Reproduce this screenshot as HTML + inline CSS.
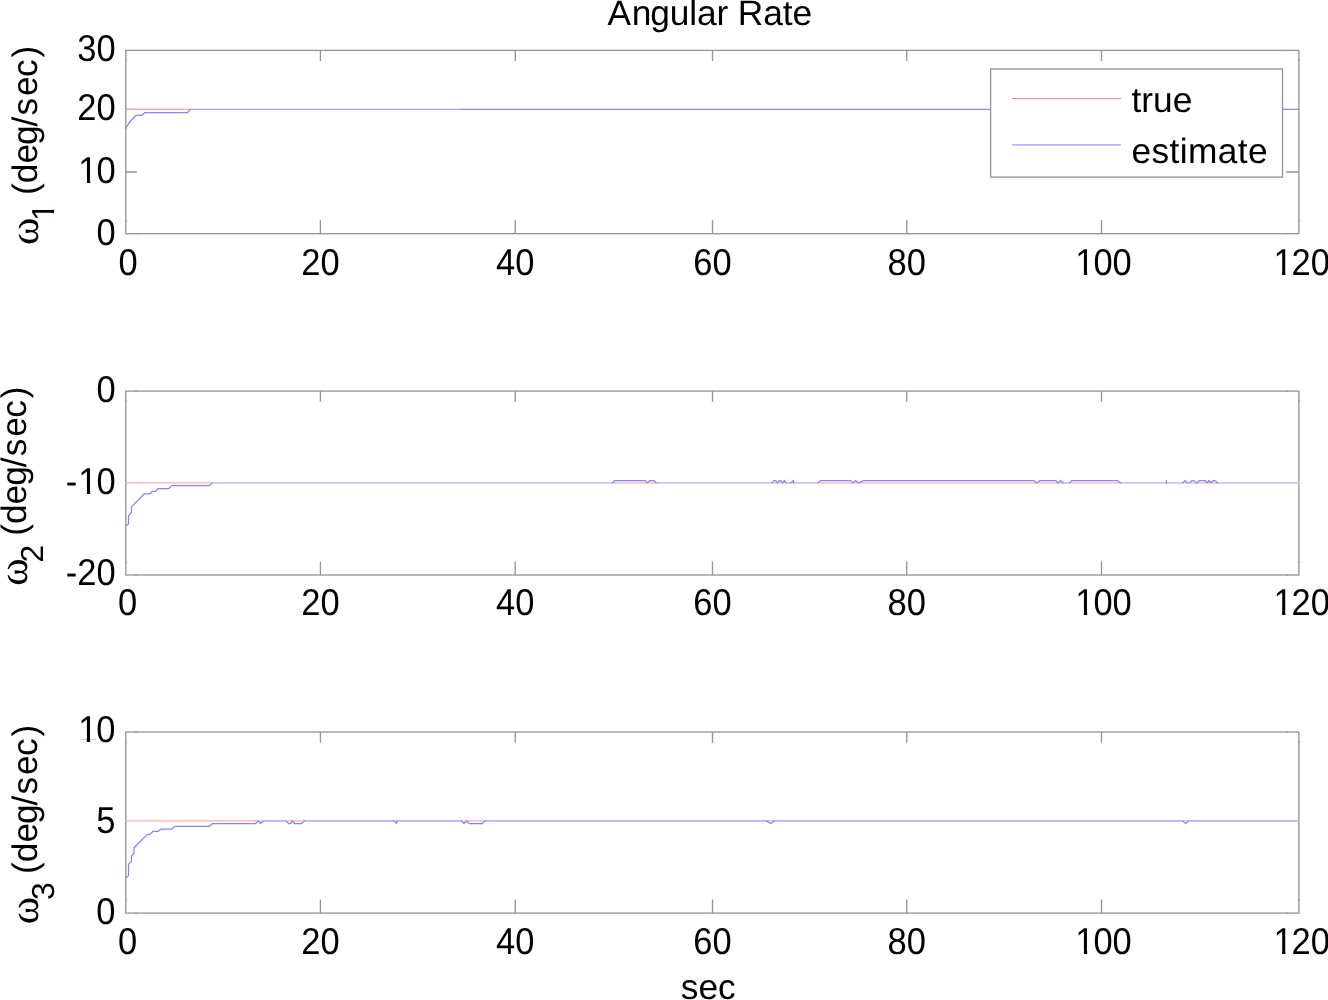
<!DOCTYPE html>
<html lang="en"><head><meta charset="utf-8"><title>Angular Rate</title>
<style>
html,body{margin:0;padding:0;background:#fff;}
body{width:1328px;height:1000px;overflow:hidden;}
svg{display:block;filter:blur(0.45px);}
text{font-family:"Liberation Sans",Arial,Helvetica,sans-serif;fill:#000;text-rendering:geometricPrecision;}
.t{font-size:35.3px;}
.s{font-size:31.8px;}
text.om{font-family:"Liberation Serif","DejaVu Serif",serif;font-size:41.5px;}
.ax{fill:none;stroke:#939393;stroke-width:1.3;}
path{fill:none;}
.r{stroke:#ffa0a0;stroke-width:1.2;}
.rl{stroke:#ff8484;stroke-width:1.1;}
.r2{stroke:#ffc2c2;stroke-width:1.9;}
.b{stroke:#a6a6f8;stroke-width:1.3;}
.b1{stroke:#8a8af6;stroke-width:1.3;}
.b2{stroke:#c6c6fa;stroke-width:1.9;}
.b3{stroke:#b4b4f4;stroke-width:1.9;}
.bd{stroke:#8484fc;stroke-width:1.25;stroke-linejoin:round;stroke-linecap:round;}
</style></head><body>
<svg width="1328" height="1000" viewBox="0 0 1328 1000">
<defs><clipPath id="c0" clipPathUnits="userSpaceOnUse"><rect x="-33.45" y="-35.30" width="66.90" height="32.31"/><rect x="-19.54" y="-3.64" width="3.36" height="4.64"/><rect x="-10.22" y="-3.64" width="20.43" height="6.64"/><rect x="9.42" y="-3.64" width="20.43" height="6.64"/></clipPath><clipPath id="c1" clipPathUnits="userSpaceOnUse"><rect x="-33.45" y="-35.30" width="66.90" height="32.31"/><rect x="-19.54" y="-3.64" width="3.36" height="4.64"/><rect x="-10.22" y="-3.64" width="20.43" height="6.64"/><rect x="9.42" y="-3.64" width="20.43" height="6.64"/></clipPath><clipPath id="c2" clipPathUnits="userSpaceOnUse"><rect x="-43.26" y="-35.30" width="47.26" height="32.31"/><rect x="-29.35" y="-3.64" width="3.36" height="4.64"/><rect x="-20.03" y="-3.64" width="20.43" height="6.64"/></clipPath><clipPath id="c3" clipPathUnits="userSpaceOnUse"><rect x="-4.00" y="-31.80" width="25.69" height="29.07"/><rect x="8.92" y="-3.38" width="3.05" height="4.38"/></clipPath><clipPath id="c4" clipPathUnits="userSpaceOnUse"><rect x="-55.02" y="-35.30" width="59.02" height="32.31"/><rect x="-51.42" y="-3.64" width="12.56" height="6.64"/><rect x="-29.35" y="-3.64" width="3.36" height="4.64"/><rect x="-20.03" y="-3.64" width="20.43" height="6.64"/></clipPath></defs>
<rect x="0" y="0" width="1328" height="1000" fill="#fff"/>
<text class="t" x="607.4" y="25.3" dx="0 1 -1" letter-spacing="-0.13">Angular Rate</text>
<rect class="ax" x="125.8" y="50.4" width="1173.1" height="183.3"/>
<path class="ax" d="M320.4 233.7v-13.5M320.4 50.4v10.7M515.25 233.7v-13.5M515.25 50.4v10.7M712.5 233.7v-13.5M712.5 50.4v10.7M906.75 233.7v-13.5M906.75 50.4v10.7M1101.5 233.7v-13.5M1101.5 50.4v10.7M125.8 172h11M125.8 109.4h11M1298.9 172h-12.8M125.8 221.7v-1.5M125.8 59.6v1.5M1298.9 221.7v-1.5M1298.9 59.6v1.5M135.3 50.4h1.5M1287.6 50.4h-1.5M135.3 233.7h1.5M1287.6 233.7h-1.5"/>
<path class="r" d="M125.8 109.4H192"/>
<path class="bd" d="M125.8 128.5 L128.5 123.75 L131 120.5 L136.25 115.25 L141.9 115.25 L145 112.5 L187.5 112.5 L190.6 109.4"/>
<path class="b" d="M190.6 109.4H461"/>
<path class="b1" d="M461 109.4H1298.9"/>
<text class="t" transform="translate(128 274.7) scale(0.978 1.06)" x="-9.82" y="0">0</text>
<text class="t" transform="translate(320.4 274.7) scale(0.978 1.06)" x="-19.63 0.00" y="0">20</text>
<text class="t" transform="translate(515.25 274.7) scale(0.978 1.06)" x="-19.63 0.00" y="0">40</text>
<text class="t" transform="translate(712.5 274.7) scale(0.978 1.06)" x="-19.63 0.00" y="0">60</text>
<text class="t" transform="translate(906.75 274.7) scale(0.978 1.06)" x="-19.63 0.00" y="0">80</text>
<text class="t" transform="translate(1103 274.7) scale(0.978 1.06)" x="-28.29 -9.82 9.82" y="0" clip-path="url(#c0)">100</text>
<text class="t" transform="translate(1301.2 274.7) scale(0.978 1.06)" x="-28.29 -9.82 9.82" y="0" clip-path="url(#c1)">120</text>
<text class="t" transform="translate(115.6 60.8) scale(0.978 1.06)" x="-39.26 -19.63" y="0">30</text>
<text class="t" transform="translate(115.6 120.2) scale(0.978 1.06)" x="-39.26 -19.63" y="0">20</text>
<text class="t" transform="translate(115.6 182.9) scale(0.978 1.06)" x="-38.11 -19.63" y="0" clip-path="url(#c2)">10</text>
<text class="t" transform="translate(115.6 244.6) scale(0.978 1.06)" x="-19.63" y="0">0</text>
<g transform="translate(37.2 0) rotate(-90)">
<text class="om" x="-244.9" y="0.4">ω</text>
<text class="s" transform="translate(-221.8 16.6)" x="1.04" y="0" clip-path="url(#c3)">1</text>
<text class="t" x="-195" y="0" dx="0 0 0 -1.0 -1.1 1.2 1.7 -0.5 1.7">(deg/sec)</text>
</g>
<rect x="990.6" y="69.0" width="291.9" height="108.1" fill="#fff" stroke="#939393" stroke-width="1.3"/>
<path class="rl" d="M1012.2 98.55H1120.8"/>
<path class="b3" d="M1012.2 144.9H1120.8"/>
<text class="t" x="1131.5" y="111.6">true</text>
<text class="t" x="1131.4" y="163.0" letter-spacing="0.4">estimate</text>
<rect class="ax" x="125.8" y="391.1" width="1173.1" height="183.9"/>
<path class="ax" d="M320.4 575v-13.5M320.4 391.1v10.7M515.25 575v-13.5M515.25 391.1v10.7M712.5 575v-13.5M712.5 391.1v10.7M906.75 575v-13.5M906.75 391.1v10.7M1101.5 575v-13.5M1101.5 391.1v10.7M125.8 563v-1.5M125.8 400.3v1.5M1298.9 563v-1.5M1298.9 400.3v1.5M135.3 391.1h1.5M1287.6 391.1h-1.5M135.3 575h1.5M1287.6 575h-1.5"/>
<path class="r2" d="M125.8 482.9H212.5"/>
<path class="bd" d="M125.6 526.25 L128.5 523.75 L128.5 515.6 L131.5 512.5 L131.5 506.9 L144.4 493.75 L150 493.75 L152.5 491.25 L155.6 491.25 L158.1 488.5 L168.75 488.5 L171.9 485.6 L209.4 485.6 L212.5 482.9"/>
<path class="r2" d="M611.95 482.9H656.3M771.6 482.9H786.55M790.3 482.9H794.1M817.8 482.9H1064.05M1069.1 482.9H1120.9M1165.9 482.9H1166.7M1182.2 482.9H1187.8M1189.2 482.9H1218.3"/>
<path class="b2" d="M212.5 482.9H612.25M656 482.9H771.9M786.25 482.9H790.6M793.8 482.9H818.1M1063.75 482.9H1069.4M1120.6 482.9H1166.2M1166.4 482.9H1182.5M1187.5 482.9H1189.5M1218 482.9H1298.9"/>
<path class="bd" d="M612.25 482.9L614.75 480.5L645 480.5L647.5 482.9L650 480.5L653.75 480.5L656 482.9M771.9 482.9L774.4 480.5L775.5 480.5L777.5 482.9L779.5 480.5L780.5 480.5L782.5 482.9L784.5 480.5L784.5 480.5L786.25 482.9M790.6 482.9L793.5 480.5L793.5 480.5L793.8 482.9M818.1 482.9L820.6 480.5L850.6 480.5L853 482.9L855.6 480.5L855.6 480.5L858.75 482.9L863.75 480.5L1033.75 480.5L1036.9 482.9L1040 480.5L1055.6 480.5L1058.1 482.9L1060.6 480.5L1060.6 480.5L1063.75 482.9M1069.4 482.9L1071.9 480.5L1117.5 480.5L1120.6 482.9M1166.2 482.9L1166.3 480.5L1166.3 480.5L1166.4 482.9M1182.5 482.9L1185 480.5L1185 480.5L1187.5 482.9M1189.5 482.9L1192 480.5L1193.5 480.5L1197 482.9L1199.5 480.5L1205 480.5L1207 482.9L1209 480.5L1209 480.5L1211 482.9L1213.5 480.5L1214.5 480.5L1218 482.9"/>
<text class="t" transform="translate(127.5 615) scale(0.978 1.06)" x="-9.82" y="0">0</text>
<text class="t" transform="translate(320.4 615) scale(0.978 1.06)" x="-19.63 0.00" y="0">20</text>
<text class="t" transform="translate(515.25 615) scale(0.978 1.06)" x="-19.63 0.00" y="0">40</text>
<text class="t" transform="translate(712.5 615) scale(0.978 1.06)" x="-19.63 0.00" y="0">60</text>
<text class="t" transform="translate(906.75 615) scale(0.978 1.06)" x="-19.63 0.00" y="0">80</text>
<text class="t" transform="translate(1103 615) scale(0.978 1.06)" x="-28.29 -9.82 9.82" y="0" clip-path="url(#c0)">100</text>
<text class="t" transform="translate(1301.2 615) scale(0.978 1.06)" x="-28.29 -9.82 9.82" y="0" clip-path="url(#c1)">120</text>
<text class="t" transform="translate(115.6 402.1) scale(0.978 1.06)" x="-19.63" y="0">0</text>
<text class="t" transform="translate(115.6 493.8) scale(0.978 1.06)" x="-51.02 -38.11 -19.63" y="0" clip-path="url(#c4)">-10</text>
<text class="t" transform="translate(115.6 585.1) scale(0.978 1.06)" x="-51.02 -39.26 -19.63" y="0">-20</text>
<g transform="translate(26.3 0) rotate(-90)">
<text class="om" x="-585.7" y="0.4">ω</text>
<text class="s" transform="translate(-562.5 16.6)" x="0.00" y="0">2</text>
<text class="t" x="-535.8" y="0" dx="0 0 0 -1.0 -1.1 1.2 1.7 -0.5 1.7">(deg/sec)</text>
</g>
<rect class="ax" x="125.8" y="732" width="1173.1" height="181.1"/>
<path class="ax" d="M320.4 913.1v-13.5M320.4 732v10.7M515.25 913.1v-13.5M515.25 732v10.7M712.5 913.1v-13.5M712.5 732v10.7M906.75 913.1v-13.5M906.75 732v10.7M1101.5 913.1v-13.5M1101.5 732v10.7M125.8 901.1v-1.5M125.8 741.2v1.5M1298.9 901.1v-1.5M1298.9 741.2v1.5M135.3 732h1.5M1287.6 732h-1.5M135.3 913.1h1.5M1287.6 913.1h-1.5"/>
<path class="r2" d="M125.8 820.9H263.75"/>
<path class="bd" d="M125.6 878.1 L128.5 875.6 L128.5 864.4 L131.5 861.25 L131.5 856.25 L134 853.1 L134 847.75 L147.5 834.4 L150 834.4 L153.1 831.25 L158.1 831.25 L161.25 829 L171.9 829 L175 826.25 L209.4 826.25 L212.5 823.5 L255.6 823.5 L258.1 820.9 L260.6 823.5 L263.75 820.9"/>
<path class="r2" d="M285.4 820.9H304.8M393.5 820.9H397.1M461 820.9H485M766.1 820.9H774.9M1182.1 820.9H1188.7"/>
<path class="b3" d="M263.75 820.9H285.7M304.5 820.9H393.8M396.8 820.9H461.3M484.7 820.9H766.4M774.6 820.9H1182.4M1188.4 820.9H1298.9"/>
<path class="bd" d="M285.7 820.9L288.5 823.5L290.5 823.5L292.5 820.9L294.5 823.5L301.7 823.5L304.5 820.9M393.8 820.9L396.6 823.5L396.6 823.5L396.8 820.9M461.3 820.9L464 823.5L464 823.5L466.7 820.9L469.3 823.5L482.3 823.5L484.7 820.9M766.4 820.9L770.5 823.5L770.5 823.5L774.6 820.9M1182.4 820.9L1185.4 823.5L1185.4 823.5L1188.4 820.9"/>
<text class="t" transform="translate(127.5 953.5) scale(0.978 1.06)" x="-9.82" y="0">0</text>
<text class="t" transform="translate(320.4 953.5) scale(0.978 1.06)" x="-19.63 0.00" y="0">20</text>
<text class="t" transform="translate(515.25 953.5) scale(0.978 1.06)" x="-19.63 0.00" y="0">40</text>
<text class="t" transform="translate(712.5 953.5) scale(0.978 1.06)" x="-19.63 0.00" y="0">60</text>
<text class="t" transform="translate(906.75 953.5) scale(0.978 1.06)" x="-19.63 0.00" y="0">80</text>
<text class="t" transform="translate(1103 953.5) scale(0.978 1.06)" x="-28.29 -9.82 9.82" y="0" clip-path="url(#c0)">100</text>
<text class="t" transform="translate(1301.2 953.5) scale(0.978 1.06)" x="-28.29 -9.82 9.82" y="0" clip-path="url(#c1)">120</text>
<text class="t" transform="translate(115.5 742.4) scale(0.978 1.06)" x="-38.11 -19.63" y="0" clip-path="url(#c2)">10</text>
<text class="t" transform="translate(115.5 832.8) scale(0.978 1.06)" x="-19.63" y="0">5</text>
<text class="t" transform="translate(115.5 923.9) scale(0.978 1.06)" x="-19.63" y="0">0</text>
<g transform="translate(37.2 0) rotate(-90)">
<text class="om" x="-924.3" y="0.4">ω</text>
<text class="s" transform="translate(-900.1 16.6)" x="0.00" y="0">3</text>
<text class="t" x="-874" y="0" dx="0 0 0 -1.0 -1.1 1.2 1.7 -0.5 1.7">(deg/sec)</text>
</g>
<text class="t" x="708.3" y="999.2" text-anchor="middle">sec</text>
</svg>
</body></html>
